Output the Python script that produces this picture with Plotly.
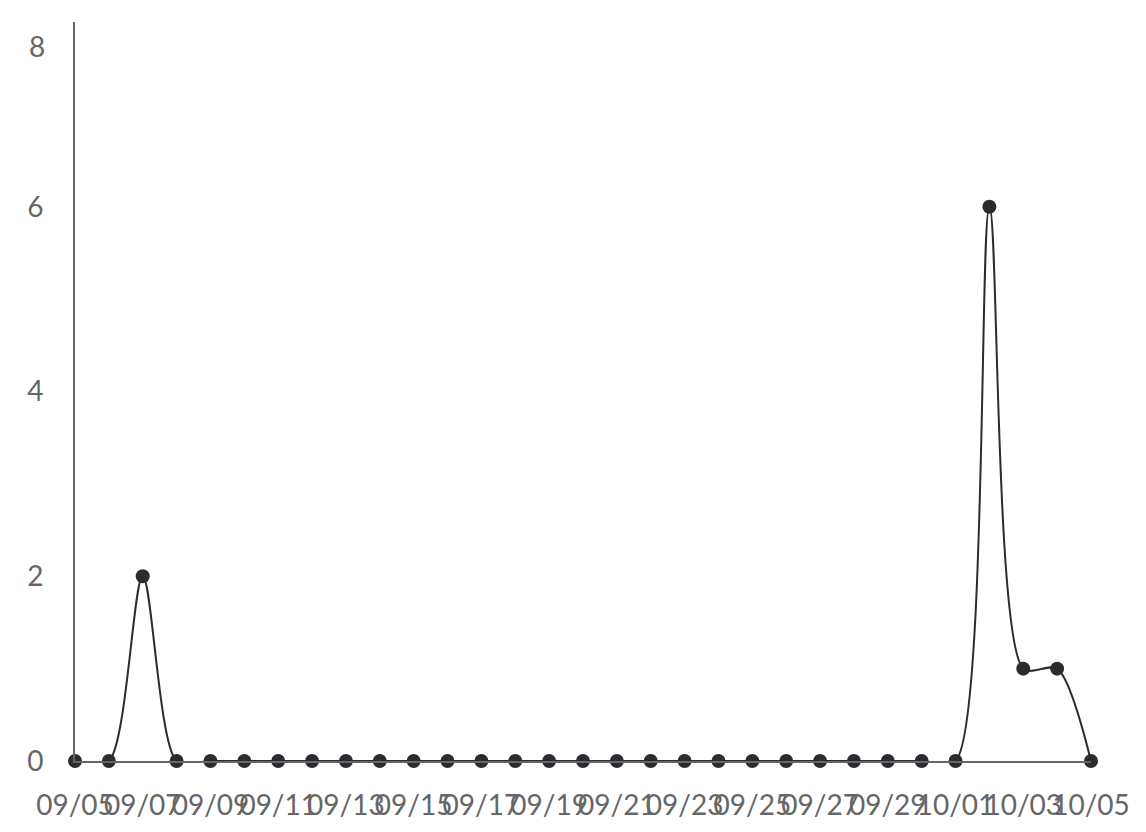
import plotly.graph_objects as go

dates = ["2024-09-05", "2024-09-06", "2024-09-07", "2024-09-08", "2024-09-09",
         "2024-09-10", "2024-09-11", "2024-09-12", "2024-09-13", "2024-09-14",
         "2024-09-15", "2024-09-16", "2024-09-17", "2024-09-18", "2024-09-19",
         "2024-09-20", "2024-09-21", "2024-09-22", "2024-09-23", "2024-09-24",
         "2024-09-25", "2024-09-26", "2024-09-27", "2024-09-28", "2024-09-29",
         "2024-09-30", "2024-10-01", "2024-10-02", "2024-10-03", "2024-10-04",
         "2024-10-05"]
counts = [0, 0, 2, 0, 0, 0, 0, 0, 0, 0,
          0, 0, 0, 0, 0, 0, 0, 0, 0, 0,
          0, 0, 0, 0, 0, 0, 0, 6, 1, 1,
          0]
y_ticks = [0, 2, 4, 6]
y_max = 8

fig = go.Figure()
fig.add_trace(go.Scatter(x=dates, y=counts, mode="lines+markers",
                         line=dict(color="#2b2c30", width=2, shape="spline", smoothing=0.8),
                         marker=dict(color="#2b2c30", size=14),
                         cliponaxis=False, showlegend=False))

# top tick label sits a bit below the axis end, as in the original
fig.add_annotation(x=0, xref="paper", y=y_max, yref="y", text=str(y_max),
                   showarrow=False, xanchor="right", xshift=-28, yshift=-24,
                   font=dict(family="Lato", size=28, color="#666666"))

fig.update_layout(
    width=1130, height=816,
    margin=dict(l=67, r=47, t=14, b=63),
    paper_bgcolor="white", plot_bgcolor="white",
    font=dict(family="Lato", size=28, color="#666666"),
    xaxis=dict(type="date", range=[dates[0], dates[-1]],
               tick0=dates[0], dtick=2 * 86400000, tickformat="%m/%d",
               tickangle=0, automargin=False,
               showgrid=False, zeroline=False, showline=True,
               linecolor="#666666", linewidth=2, ticks="",
               ticklabelstandoff=18),
    yaxis=dict(range=[0, y_max], tickvals=y_ticks, automargin=False,
               showgrid=False, zeroline=False, showline=True,
               linecolor="#666666", linewidth=2, ticks="",
               ticklabelstandoff=24),
)

fig.write_html("out.html")
